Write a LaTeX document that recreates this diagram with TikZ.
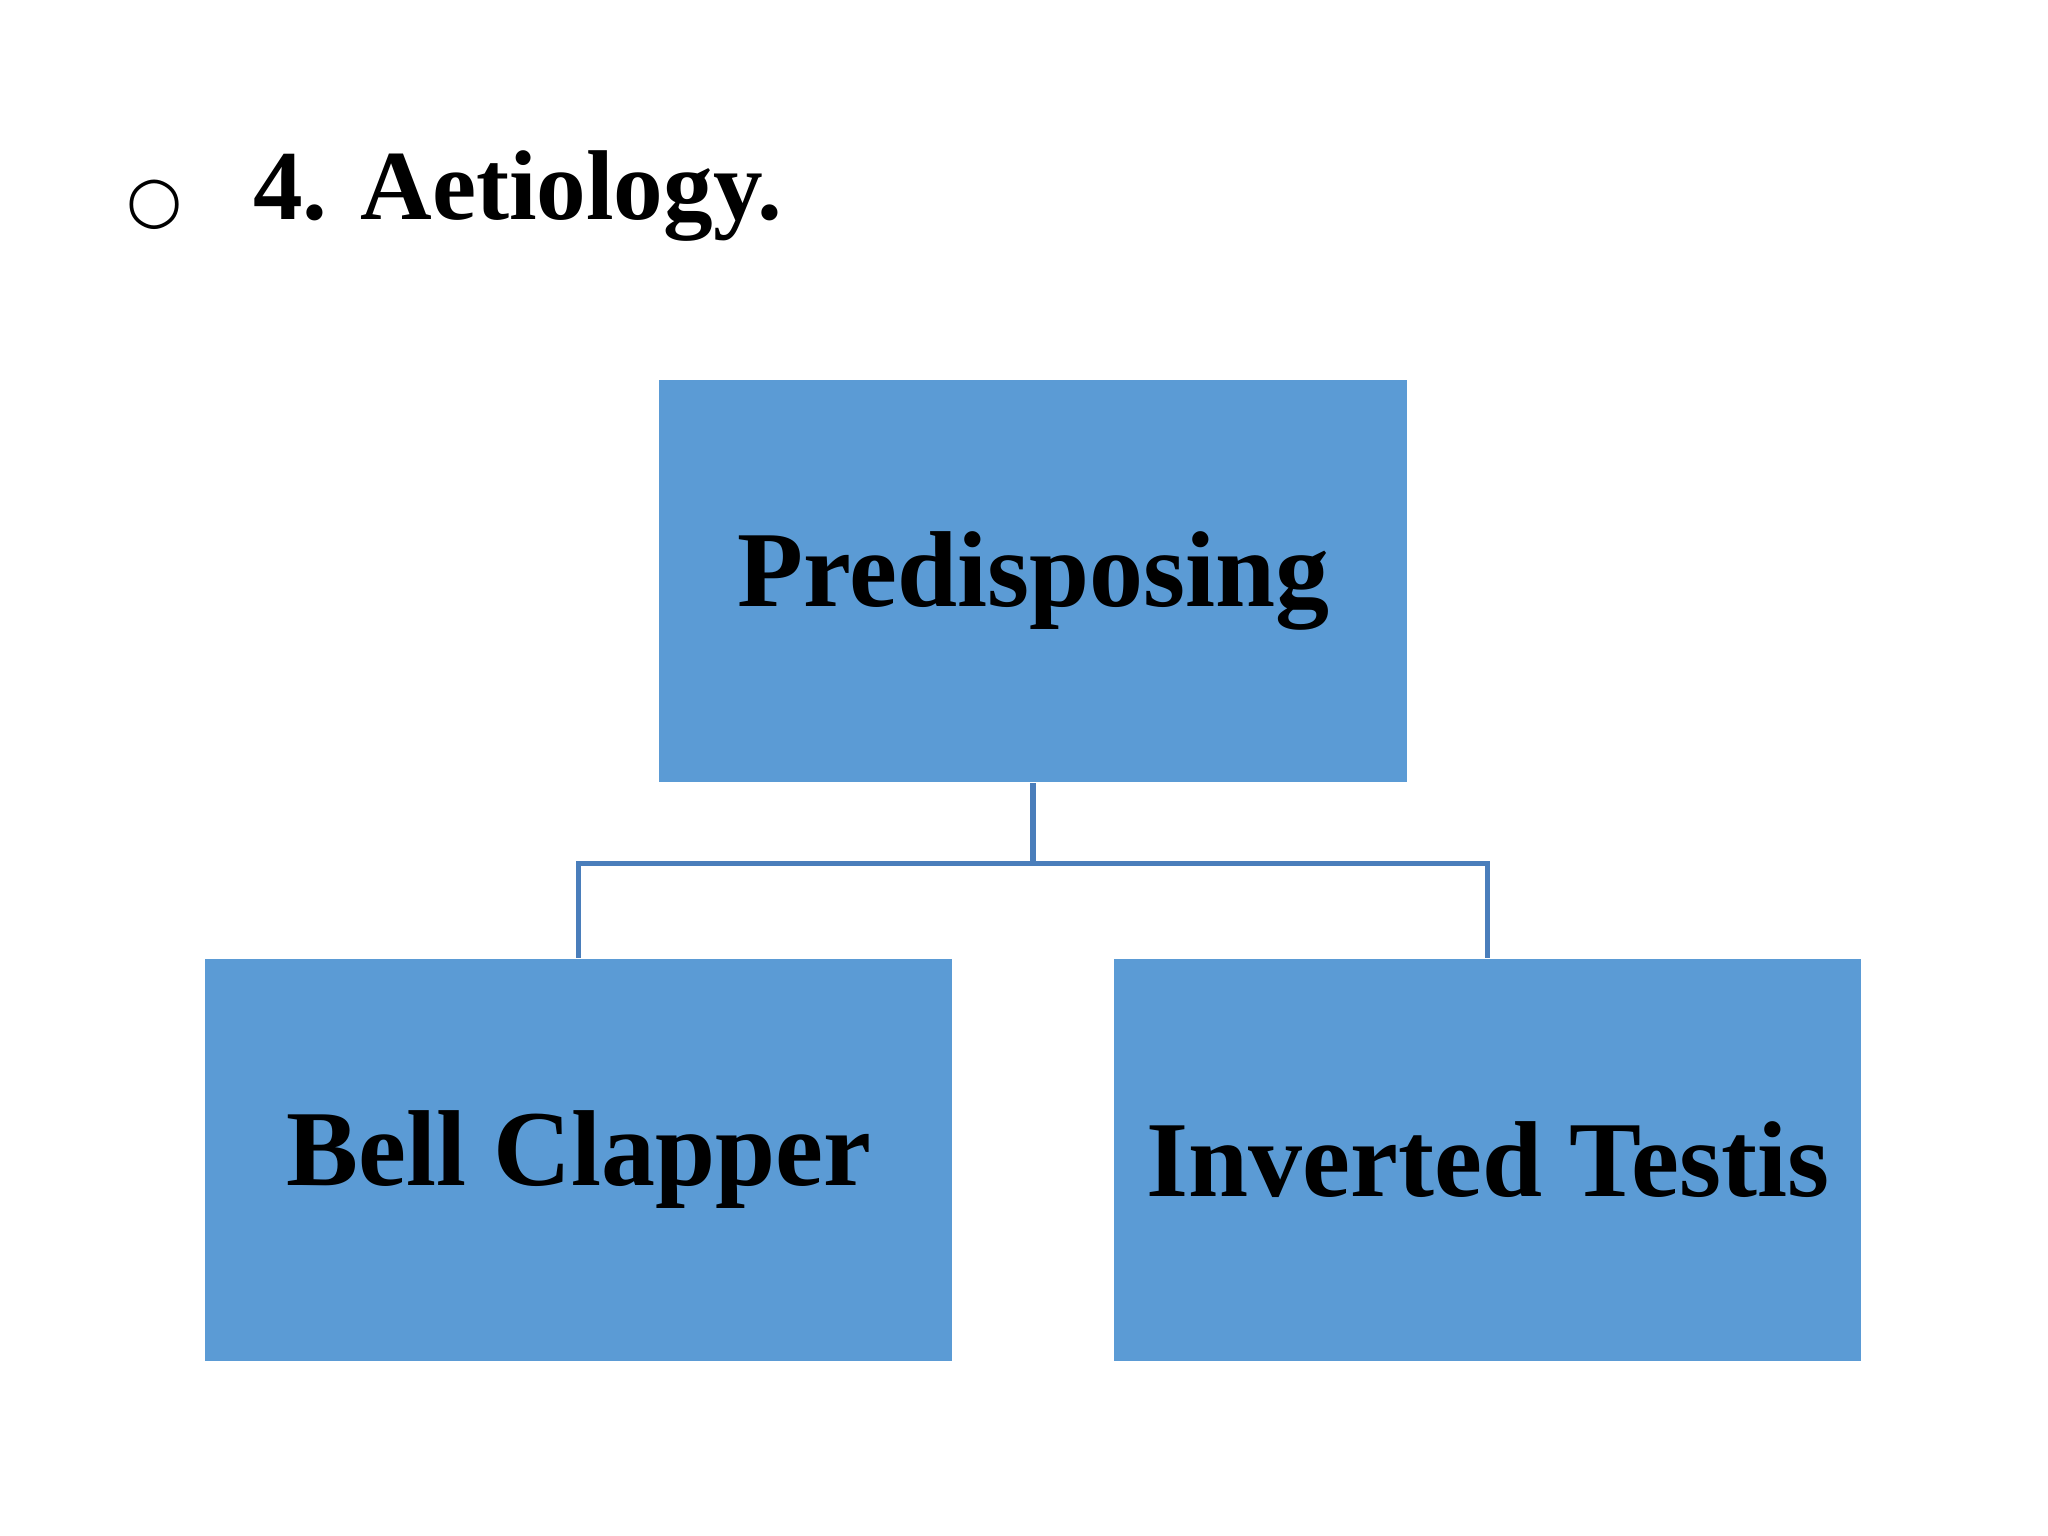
\documentclass[tikz,border=0pt]{standalone}
\usepackage{fontspec}
\setmainfont{Liberation Serif}
\newfontfamily\symfont{DejaVu Sans}
\usetikzlibrary{positioning}
\definecolor{boxBlue}{RGB}{91,155,213}
\definecolor{lineBlue}{RGB}{74,126,187}
\tikzset{
	causebox/.style={rectangle, fill=boxBlue, minimum width=5.72cm, minimum height=3.08cm, inner sep=0pt, font=\fontsize{23.5}{28}\selectfont\bfseries},
	branch/.style={lineBlue, line width=1.2pt}
}
\begin{document}
\begin{tikzpicture}[x=0.01cm, y=-0.01cm]
	\useasboundingbox (0,0) rectangle (1568,1176);
	% Title
	\node[anchor=center, font=\symfont\fontsize{14}{14}\selectfont] (bullet) at (118,157) {○};
	\node[anchor=west, inner sep=0pt, font=\fontsize{21.6}{26}\selectfont\bfseries] (title) at (193,150) {4. Aetiology.};
	
	% Boxes
	\node[causebox] (pre) at (791,445) {Predisposing};
	\node[causebox] (bell) at (443,888) {Bell Clapper};
	\node[causebox] (inv) at (1139,888) {Inverted Testis};
	
	% Connections
	\coordinate (split) at (791,661);
	\draw[branch] (pre.south) -- (split);
	\draw[branch] (split) -| (bell.north);
	\draw[branch] (split) -| (inv.north);
\end{tikzpicture}
\end{document}
